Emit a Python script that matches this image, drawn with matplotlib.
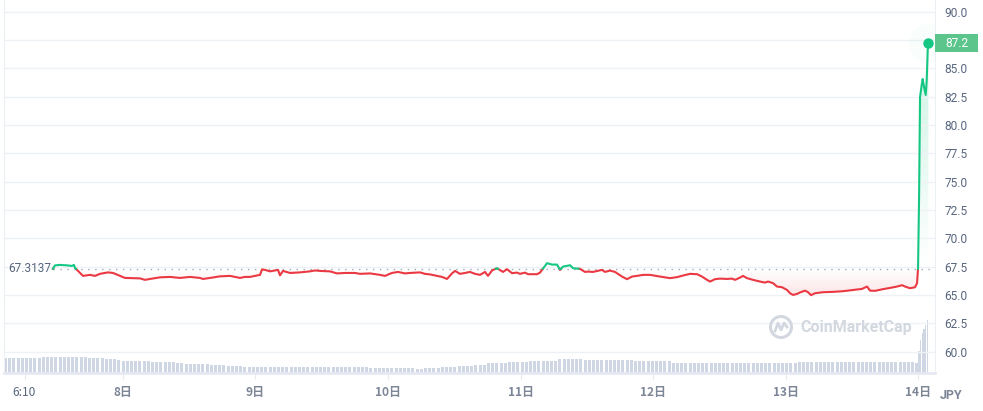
import matplotlib
matplotlib.use("Agg")
import matplotlib.pyplot as plt
from matplotlib.patches import Ellipse, Rectangle
from matplotlib.colors import to_rgb
from matplotlib.transforms import blended_transform_factory
import numpy as np

plt.rcParams['font.family'] = ['Noto Sans CJK JP', 'DejaVu Sans']

# hours since 7日 00:00
hours = [11.32, 11.7, 12.59, 13.86, 14.76, 15.12, 15.31, 16.75, 18.02, 18.93, 19.83,
         20.74, 21.28, 22.19, 23.46, 24.36, 27.08, 27.98, 28.89, 30.70, 32.51,
         34.32, 36.14, 37.95, 38.49, 39.76, 41.57, 43.38, 45.19, 46.10, 47.00,
         47.91, 48.82, 49.18, 49.72, 50.63, 52.08, 52.44, 52.98, 54.25, 56.06,
         57.87, 58.78, 59.68, 61.49, 62.76, 64.21, 66.02, 66.93, 68.74, 70.55,
         71.46, 72.72, 73.81, 75.08, 75.98, 77.80, 78.70, 79.61, 80.87, 81.78,
         82.69, 83.59, 84.14, 85.04, 85.95, 86.85, 87.76, 88.66, 89.57, 90.11,
         90.84, 91.74, 92.83, 93.55, 94.46, 95.37, 95.91, 96.81, 97.36, 98.99,
         99.53, 100.07, 100.80, 101.70, 102.61, 103.15, 103.70, 104.97, 105.51,
         106.78, 107.68, 108.23, 109.13, 110.76, 111.31, 112.21, 113.12, 114.38,
         115.29, 116.19, 117.10, 118.19, 119.46, 121.27, 123.08, 124.35, 125.43,
         126.70, 127.97, 128.87, 129.78, 130.32, 131.23, 132.13, 133.40, 134.31,
         134.85, 135.76, 136.30, 137.03, 138.11, 139.38, 140.29, 140.83, 141.73,
         142.46, 143.36, 144.27, 144.81, 145.36, 146.08, 146.63, 147.53, 148.07,
         148.62, 149.34, 150.79, 152.60, 154.41, 156.22, 157.85, 158.76, 159.30,
         160.21, 161.66, 162.93, 164.19, 165.10, 165.64, 166.55, 167.45, 167.82,
         168.00, 168.18, 168.36, 168.66, 168.84, 169.08, 169.39, 169.57, 169.75,
         169.86]
price = [67.31, 67.61, 67.65, 67.61, 67.56, 67.65, 67.39, 66.68, 66.77, 66.68, 66.86,
         66.94, 66.99, 66.94, 66.68, 66.50, 66.46, 66.33, 66.41, 66.55, 66.59,
         66.50, 66.59, 66.50, 66.41, 66.50, 66.64, 66.68, 66.50, 66.59, 66.59,
         66.68, 66.77, 67.25, 67.21, 67.08, 67.21, 66.73, 67.12, 66.94, 66.99,
         67.08, 67.16, 67.12, 67.08, 66.90, 66.94, 66.94, 66.86, 66.90, 66.77,
         66.68, 66.94, 67.03, 66.90, 66.94, 66.99, 66.86, 66.81, 66.68, 66.59,
         66.41, 66.90, 67.12, 66.86, 66.94, 67.03, 66.86, 66.77, 67.03, 66.68,
         67.16, 67.36, 67.03, 67.27, 66.92, 66.97, 66.86, 66.97, 66.83, 66.83,
         66.97, 67.32, 67.80, 67.68, 67.68, 67.21, 67.50, 67.62, 67.36,
         67.30, 67.03, 67.06, 67.03, 67.21, 67.03, 67.15, 67.03, 66.62,
         66.39, 66.62, 66.68, 66.77, 66.77, 66.62, 66.48, 66.57, 66.71,
         66.86, 66.83, 66.62, 66.33, 66.18, 66.39, 66.44, 66.41, 66.44,
         66.33, 66.53, 66.68, 66.48, 66.33, 66.18, 66.09, 66.18, 66.04,
         65.74, 65.68, 65.44, 65.15, 65.00, 65.09, 65.22, 65.38, 65.24,
         64.98, 65.15, 65.24, 65.27, 65.33, 65.44, 65.53, 65.74, 65.38,
         65.36, 65.51, 65.62, 65.74, 65.86, 65.74, 65.59, 65.68, 66.04,
         67.36, 73.39, 82.47, 83.53, 84.06, 83.36, 82.65, 83.97, 86.62,
         87.2]
ref_price = 67.3137

# volume (relative units), regular bars then the last fine-grained ones
vol = ([15.3] * 9 + [16.3] * 11 + [15] * 4 + [14] * 3 + [13] + [12] * 7 + [11] * 6
       + [10] * 2 + [9] * 6 + [8] * 4 + [7] * 4 + [6] * 30 + [5] * 11 + [4] * 2
       + [5] * 4 + [6] * 4 + [7] * 4 + [8] * 3 + [10] * 5 + [11] * 5 + [12.3] * 7
       + [14] * 6 + [13] * 12 + [11.7] * 9 + [10] * 30 + [11] * 28 + [10.3])
vol_hours = np.linspace(2.72, 167.80, len(vol))
vol_end_hours = [168.18, 168.47, 168.77, 169.08, 169.39, 169.68]
vol_end = [22, 33, 40, 44, 48, 53]

tick_hours = [6 + 10 / 60, 24, 48, 72, 96, 120, 144, 168]
tick_labels = ['6:10', '8日', '9日', '10日', '11日', '12日', '13日', '14日']
y_ticks = [60.0, 62.5, 65.0, 67.5, 70.0, 72.5, 75.0, 77.5, 80.0, 82.5, 85.0, 87.5, 90.0]

GREEN = '#16c784'
RED = '#ea3943'
GRID = '#eff2f5'
TXT = '#58667e'
XLIM = (2.45, 171.07)
YLIM = (58.11, 91.03)


def split_at_ref(t, p, ref):
    tt, pp = [t[0]], [p[0]]
    for i in range(1, len(t)):
        a, b = p[i - 1] - ref, p[i] - ref
        if a * b < 0:
            f = a / (a - b)
            tt.append(t[i - 1] + f * (t[i] - t[i - 1]))
            pp.append(ref)
        tt.append(t[i])
        pp.append(p[i])
    return np.array(tt), np.array(pp)


fig = plt.figure(figsize=(9.83, 4.11), dpi=100)
ax = fig.add_axes([4 / 983, 38 / 411, 931 / 983, 373 / 411])
axv = ax.twinx()
axv.set_zorder(0)
ax.set_zorder(1)
ax.patch.set_visible(False)

# volume
axv.bar(vol_hours, vol, width=0.55, color='#cfd6e4', linewidth=0)
axv.bar(vol_end_hours, vol_end, width=0.22, color='#cfd6e4', linewidth=0)
axv.set_ylim(0, 373)
axv.set_yticks([])
for s in axv.spines.values():
    s.set_visible(False)

t, p = split_at_ref(np.array(hours), np.array(price), ref_price)
above = np.where(p >= ref_price, p, np.nan)
below = np.where(p <= ref_price, p, np.nan)

# gradient fill between line and reference price
ys = np.linspace(YLIM[0], YLIM[1], 400)
grad = np.zeros((len(ys), 2, 4))
lo, hi = min(price), max(price)
for i, y in enumerate(ys):
    if y < ref_price:
        grad[i, :, :3] = to_rgb(RED)
        grad[i, :, 3] = 0.13 * min(1, (ref_price - y) / (ref_price - lo))
    else:
        grad[i, :, :3] = to_rgb(GREEN)
        grad[i, :, 3] = 0.22 * min(1, (y - ref_price) / (hi - ref_price))
poly = ax.fill_between(t, p, ref_price, color='none', linewidth=0)
im = ax.imshow(grad, extent=[XLIM[0], XLIM[1], YLIM[0], YLIM[1]], origin='lower',
               aspect='auto', interpolation='bilinear', zorder=0.4)
im.set_clip_path(poly.get_paths()[0], transform=ax.transData)

ax.plot(t, below, color=RED, lw=1.5, solid_joinstyle='round')
ax.plot(t, above, color=GREEN, lw=1.5, solid_joinstyle='round')

ax.axhline(ref_price, xmin=(hours[0] - XLIM[0]) / (XLIM[1] - XLIM[0]), color='#a0a7b4',
           lw=1, ls=(0, (1, 4)), zorder=0.5)
ax.text(3.2, ref_price, '67.3137', ha='left', va='center', fontsize=8.6,
        color=TXT, family=['Roboto', 'DejaVu Sans'])

# last point
ax.plot(hours[-1], price[-1], 'o', color=GREEN, ms=28, alpha=0.025, mec='none')
ax.plot(hours[-1], price[-1], 'o', color=GREEN, ms=7.5, mec='none')

ax.set_xlim(*XLIM)
ax.set_ylim(*YLIM)
ax.set_yticks(y_ticks)
ax.yaxis.tick_right()
ax.tick_params(axis='y', length=0, pad=7, labelsize=8.6, labelcolor=TXT)
ax.set_yticklabels(['' if v == 87.5 else f'{v:.1f}' for v in y_ticks],
                   family=['Roboto', 'DejaVu Sans'])
ax.grid(axis='y', color=GRID, lw=1)
ax.set_xticks(tick_hours)
ax.set_xticklabels(tick_labels)
ax.tick_params(axis='x', length=4, color='#e6e9ee', pad=5, labelsize=8.6, labelcolor=TXT)
for lbl in ax.get_xticklabels()[1:]:
    lbl.set_fontweight('bold')
    lbl.set_color('#7d8696')

ax.spines['top'].set_visible(False)
ax.spines['left'].set_color('#eceff3')
ax.spines['right'].set_color('#eceff3')
ax.spines['bottom'].set_color('#e6e9f2')
ax.spines['bottom'].set_linewidth(2)

# price tag on the right
tag_tr = blended_transform_factory(fig.transFigure, ax.transData)
ax.add_patch(Rectangle((935 / 983, price[-1] - 0.8), 43 / 983, 1.6, transform=tag_tr,
                       fc='#5bc58b', ec='none', clip_on=False, zorder=5))
ax.text(956.5 / 983, price[-1], f'{price[-1]:.1f}', transform=tag_tr, ha='center',
        va='center', fontsize=8.6, color='white', family=['Roboto', 'DejaVu Sans'],
        clip_on=False, zorder=6)

# watermark
wm = '#d3d8e0'
fig.text(800 / 983, 1 - 327 / 411, 'CoinMarketCap', ha='left', va='center',
         fontsize=11.5, fontweight='bold', color=wm, family=['Roboto', 'DejaVu Sans'])
fig.patches.append(Ellipse((781 / 983, 1 - 327 / 411), 21 / 983, 21 / 411,
                           transform=fig.transFigure, fill=False, ec=wm, lw=2.2))
fig.lines.append(plt.Line2D(np.array([775, 778, 781, 784, 787]) / 983,
                            1 - np.array([331, 323, 330, 323, 327]) / 411,
                            transform=fig.transFigure, color=wm, lw=2))

fig.text(940 / 983, 1 - 395 / 411, 'JPY', ha='left', va='center', fontsize=9,
         fontweight='bold', color='#7d8696', family=['Roboto', 'DejaVu Sans'])

fig.savefig('out.png', dpi=100)
